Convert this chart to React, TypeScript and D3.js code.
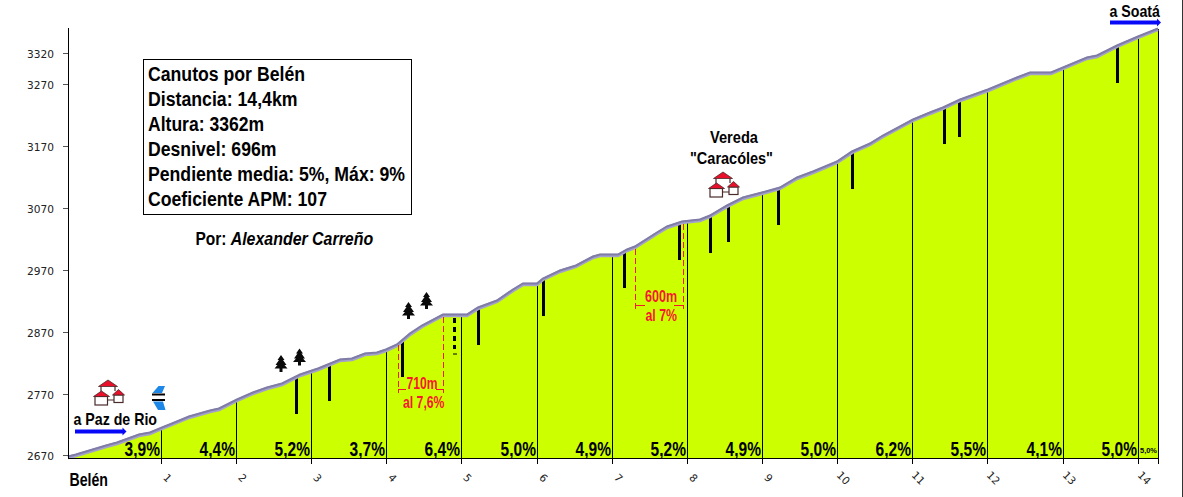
import { useEffect, useRef } from 'react';
import * as d3 from 'd3';

// Distance along the climb (km) and altitude (m)
const profileKm = [-0.24, -0.13, 0.01, 0.27, 0.41, 0.71, 0.85, 1.01, 1.15, 1.38, 1.65, 1.78, 2.01, 2.22, 2.41, 2.61, 2.85, 3.01, 3.09, 3.38, 3.55, 3.71, 3.87, 4.0, 4.14, 4.31, 4.48, 4.75, 5.07, 5.22, 5.47, 5.68, 5.82, 6.0, 6.08, 6.31, 6.53, 6.75, 6.84, 7.08, 7.2, 7.31, 7.6, 7.73, 7.93, 8.17, 8.31, 8.53, 8.75, 9.0, 9.24, 9.47, 9.68, 10.0, 10.2, 10.44, 10.61, 11.01, 11.24, 11.41, 11.64, 12.01, 12.4, 12.57, 12.84, 13.01, 13.33, 13.46, 13.73, 14.01, 14.27];
const profileAlt = [2668, 2670, 2675, 2685, 2690, 2703, 2707, 2715, 2720, 2732, 2742, 2745, 2760, 2771, 2779, 2786, 2800, 2807, 2810, 2824, 2826, 2834, 2836, 2840, 2849, 2866, 2879, 2897, 2897, 2908, 2920, 2937, 2947, 2947, 2955, 2968, 2976, 2990, 2994, 2994, 3002, 3007, 3029, 3039, 3047, 3050, 3057, 3073, 3086, 3095, 3103, 3118, 3128, 3145, 3161, 3174, 3187, 3213, 3223, 3232, 3245, 3261, 3281, 3289, 3289, 3297, 3313, 3316, 3332, 3347, 3360];

const altTicks = [2670, 2770, 2870, 2970, 3070, 3170, 3270, 3320];
const kmTicks = [1, 2, 3, 4, 5, 6, 7, 8, 9, 10, 11, 12, 13, 14];
const endKm = 14.27;
const gradients = ['3,9%', '4,4%', '5,2%', '3,7%', '6,4%', '5,0%', '4,9%', '5,2%', '4,9%', '5,0%', '6,2%', '5,5%', '4,1%', '5,0%'];
const lastGradient = '5,0%';

// Short black marks hanging below the road
const markKm = [2.8, 3.24, 4.21, 5.22, 6.09, 7.17, 7.9, 8.31, 8.55, 9.21, 10.2, 11.42, 11.62, 13.73];
const dashedMarkKm = 4.9;

const infoLines = ['Canutos por Belén', 'Distancia: 14,4km', 'Altura: 3362m', 'Desnivel: 696m', 'Pendiente media: 5%, Máx: 9%', 'Coeficiente APM: 107'];

const FONT = '"Liberation Sans", Arial, sans-serif';
const RED = '#f8142f';
const BLUE = '#0808f8';

export default function App() {
  const svgRef = useRef<SVGSVGElement>(null);

  useEffect(() => {
    if (!svgRef.current) return;

    const width = 1183;
    const height = 497;
    const baseY = 458;

    const svg = d3.select(svgRef.current);
    svg.selectAll('*').remove();

    const x = d3.scaleLinear().domain([-0.236, endKm]).rangeRound([68, 1158]);
    const y = d3.scaleLinear().domain([2670, 3320]).rangeRound([455.4, 53.4]);
    const altAt = d3.scaleLinear().domain(profileKm).range(profileAlt);
    const roadY = (km: number) => y(altAt(km));

    const points = profileKm.map((km, i) => [km, profileAlt[i]] as [number, number]);

    // Climb fill
    svg.append('path')
      .attr('d', d3.area<[number, number]>().x(d => x(d[0])).y0(baseY).y1(d => y(d[1]))(points))
      .attr('fill', '#ccff00');

    // Kilometre lines
    [...kmTicks, endKm].forEach(km => {
      svg.append('line')
        .attr('x1', x(km) + 0.5).attr('x2', x(km) + 0.5)
        .attr('y1', roadY(km)).attr('y2', baseY)
        .attr('stroke', '#000').attr('stroke-width', 1);
    });

    // Black marks
    markKm.forEach(km => {
      svg.append('line')
        .attr('x1', x(km) + 0.5).attr('x2', x(km) + 0.5)
        .attr('y1', roadY(km)).attr('y2', roadY(km) + 37)
        .attr('stroke', '#000').attr('stroke-width', 3);
    });
    svg.append('line')
      .attr('x1', x(dashedMarkKm) + 0.5).attr('x2', x(dashedMarkKm) + 0.5)
      .attr('y1', roadY(dashedMarkKm) + 3).attr('y2', roadY(dashedMarkKm) + 34)
      .attr('stroke', '#000').attr('stroke-width', 3).attr('stroke-dasharray', '5,4');
    svg.append('line')
      .attr('x1', x(dashedMarkKm) - 1).attr('x2', x(dashedMarkKm) + 3)
      .attr('y1', roadY(dashedMarkKm) + 39).attr('y2', roadY(dashedMarkKm) + 39)
      .attr('stroke', '#000');

    // Road line
    const line = d3.line<[number, number]>().x(d => x(d[0])).y(d => y(d[1]));
    svg.append('path').attr('d', line(points)).attr('fill', 'none').attr('stroke', '#a4a2cc').attr('stroke-width', 3.5).attr('transform', 'translate(0,0.5)');
    svg.append('path').attr('d', line(points)).attr('fill', 'none').attr('stroke', '#7f7da6').attr('stroke-width', 2).attr('transform', 'translate(0,-0.5)');

    // Axes
    const yAxis = svg.append('g')
      .attr('transform', 'translate(68,0)')
      .call(d3.axisLeft(y).tickValues(altTicks).tickSize(5).tickPadding(9).tickFormat(d => `${d}`));
    yAxis.select('.domain').remove();
    yAxis.selectAll('line').attr('stroke', '#555');
    yAxis.selectAll('text').attr('font-family', '"DejaVu Sans"').attr('font-size', 10.6).attr('fill', '#222').attr('dy', '0.4em');
    svg.append('line')
      .attr('x1', 68.5).attr('x2', 68.5).attr('y1', 28).attr('y2', baseY + 0.5)
      .attr('stroke', '#000');

    const xAxis = svg.append('g')
      .attr('transform', `translate(0,${baseY})`)
      .call(d3.axisBottom(x).tickValues([...kmTicks, endKm]).tickSize(6)
        .tickFormat(d => (kmTicks.includes(+d) ? `${d}` : '')));
    xAxis.select('.domain').remove();
    xAxis.selectAll('line').attr('stroke', '#000');
    xAxis.selectAll('text')
      .attr('font-family', '"DejaVu Sans"').attr('font-size', 10.6).attr('fill', '#222')
      .attr('text-anchor', 'middle').attr('y', 0).attr('dy', '0.35em')
      .attr('transform', 'translate(6,20) rotate(45)');
    svg.append('line')
      .attr('x1', 68).attr('x2', 1159).attr('y1', baseY + 0.5).attr('y2', baseY + 0.5)
      .attr('stroke', '#000');

    // Narrow bold text: the source face is condensed, so width is forced
    const label = (
      txt: string, px: number, py: number, size: number, len: number,
      opts: { fill?: string; italic?: boolean } = {},
    ) => svg.append('text')
      .attr('x', px).attr('y', py)
      .attr('font-family', FONT).attr('font-size', size)
      .attr('font-weight', 'bold')
      .attr('font-style', opts.italic ? 'italic' : 'normal')
      .attr('fill', opts.fill ?? '#000')
      .attr('textLength', len).attr('lengthAdjust', 'spacingAndGlyphs')
      .text(txt);

    // Gradient per kilometre, squeezed with a transform
    gradients.forEach((g, i) => {
      svg.append('text')
        .attr('transform', `translate(${x(kmTicks[i]) - 1},455.5) scale(0.74,1)`)
        .attr('text-anchor', 'end')
        .attr('font-family', FONT).attr('font-size', 21).attr('font-weight', 'bold')
        .text(g);
    });
    label(lastGradient, x(endKm) - 1 - 17, 452.5, 8, 17);

    // Info box
    svg.append('rect')
      .attr('x', 143.5).attr('y', 59.5).attr('width', 268).attr('height', 155)
      .attr('fill', '#fff').attr('stroke', '#000');
    const infoWidths = [157, 149.5, 116, 128.5, 257, 179];
    infoLines.forEach((t, i) => label(t, 148, 81 + i * 25, 20, infoWidths[i]));

    label('Por: ', 195.5, 245, 18, 31);
    label('Alexander Carreño', 230.7, 245, 18, 142.5, { italic: true });
    label('Vereda', 710, 143, 17, 48);
    label('"Caracóles"', 690, 164, 17, 83);
    label('a Paz de Rio', 73.5, 425, 17, 83.5);
    label('a Soatá', 1109.5, 17, 17, 50.5);
    label('Belén', 69.5, 486, 18.5, 38.5);

    // Direction arrows
    const arrow = (x1: number, x2: number, ay: number) => {
      svg.append('line').attr('x1', x1).attr('x2', x2 - 3).attr('y1', ay).attr('y2', ay)
        .attr('stroke', BLUE).attr('stroke-width', 4);
      svg.append('path').attr('d', `M${x2 - 4},${ay - 4}L${x2},${ay}L${x2 - 4},${ay + 4}Z`).attr('fill', BLUE);
    };
    arrow(75, 126.5, 431.5);
    arrow(1110, 1161, 22.5);

    // Red steep-section brackets
    const bracket = (km1: number, km2: number, alt: number) => {
      [km1, km2].forEach(km => {
        svg.append('line')
          .attr('x1', x(km) + 0.5).attr('x2', x(km) + 0.5)
          .attr('y1', roadY(km) + 2).attr('y2', y(alt) + 4)
          .attr('stroke', RED).attr('stroke-dasharray', '6,3');
      });
      return y(alt) + 0.5;
    };
    const by1 = bracket(4.16, 4.75, 2777);
    svg.append('path').attr('d', `M${x(4.16)},${by1}h8M${x(4.75) + 1},${by1}h-8`).attr('stroke', RED).attr('fill', 'none');
    label('710m', 406.5, 389, 16, 31, { fill: RED });
    label('al 7,6%', 403, 408, 16, 41.5, { fill: RED });

    const by2 = bracket(7.31, 7.95, 2913);
    svg.append('path').attr('d', `M${x(7.31)},${by2}h10M${x(7.95) + 1},${by2}h-10`).attr('stroke', RED).attr('fill', 'none');
    label('600m', 645, 302, 16, 32, { fill: RED });
    label('al 7%', 645.5, 321, 16, 31.5, { fill: RED });

    // Houses
    const house = (hx: number, hy: number) => {
      const g = svg.append('g').attr('transform', `translate(${hx},${hy})`);
      const dark = '#4a2a2a';
      g.append('path').attr('d', 'M-7,6V12M7,6V11M-0.5,20H6').attr('stroke', dark).attr('stroke-width', 1.2).attr('fill', 'none');
      g.append('path').attr('d', 'M-9.5,6.5L0,0L9.5,6.5Z').attr('fill', '#e8102a').attr('stroke', dark).attr('stroke-width', 0.8);
      g.append('rect').attr('x', -13).attr('y', 16.5).attr('width', 12.5).attr('height', 8.5).attr('fill', '#fff').attr('stroke', dark).attr('stroke-width', 1.2);
      g.append('path').attr('d', 'M-14.5,16.5L-6.5,11L1.5,16.5Z').attr('fill', '#e8102a').attr('stroke', dark).attr('stroke-width', 0.8);
      g.append('rect').attr('x', 6).attr('y', 15).attr('width', 9).attr('height', 7.5).attr('fill', '#fff').attr('stroke', dark).attr('stroke-width', 1.2);
      g.append('path').attr('d', 'M4.5,15L10.5,9.5L16.5,15Z').attr('fill', '#e8102a').attr('stroke', dark).attr('stroke-width', 0.8);
    };
    house(108, 380);
    house(723, 172);

    // Trees
    const tree = (tx: number, ty: number) => {
      svg.append('path')
        .attr('transform', `translate(${tx},${ty})`)
        .attr('d', 'M0,0L3.5,5H2L5.5,10H3.5L6.5,13.5H1.5V17H-1.5V13.5H-6.5L-3.5,10H-5.5L-2,5H-3.5Z')
        .attr('fill', '#0a0a0a');
    };
    tree(281, 355);
    tree(299.5, 348.5);
    tree(408.5, 302);
    tree(426.5, 292);

    // Bridge over the river
    svg.append('path').attr('d', 'M158.5,386H165L162,393H152.5Z').attr('fill', '#1e88e8');
    svg.append('path').attr('d', 'M153,401.5H163L165.5,410H158Z').attr('fill', '#1e88e8');
    svg.append('path').attr('d', 'M152,394.5H165M152,400H165').attr('stroke', '#000').attr('stroke-width', 1.8);

    // Thin frame line on the right edge of the image
    svg.append('line').attr('x1', 1182.5).attr('x2', 1182.5).attr('y1', 0).attr('y2', height).attr('stroke', '#333');

    svg.attr('width', width).attr('height', height);
  }, []);

  return <svg ref={svgRef} style={{ position: 'absolute', left: 0, top: 0, display: 'block', background: '#fff' }} />;
}
